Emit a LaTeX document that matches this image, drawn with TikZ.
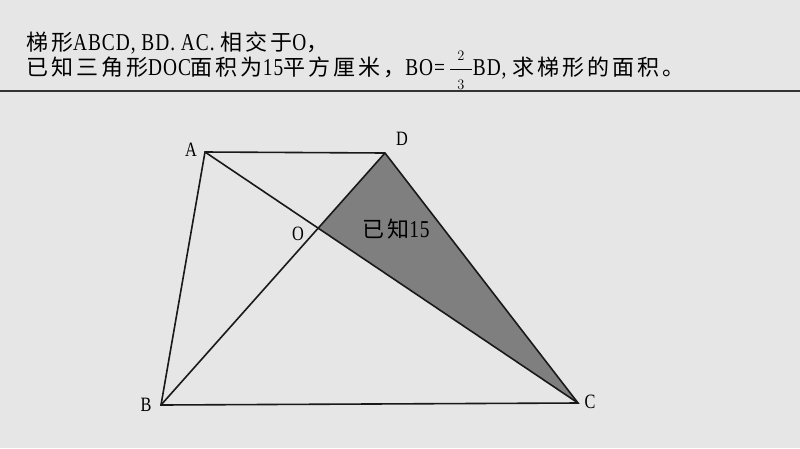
\documentclass[tikz,border=0pt]{standalone}
\usepackage{amsmath}
\usepackage{fontspec}
\setmainfont[FakeStretch=0.8, Scale=1.1, LetterSpace=4]{Liberation Serif}
\newfontfamily\cjk[LetterSpace=13.6]{Noto Sans CJK SC}
\definecolor{bgcol}{HTML}{E6E6E6}
\definecolor{shadecol}{HTML}{7F7F7F}
\tikzset{
  edge/.style={line width=1.6pt, draw=black!90},
  vlabel/.style={font=\fontsize{18.5}{22}\selectfont, inner sep=0pt},
  question/.style={font=\fontsize{22}{26}\selectfont, anchor=base west, inner sep=0pt},
}

\begin{document}
\begin{tikzpicture}[x=1pt,y=-1pt]
    \fill[bgcol] (0,0) rectangle (800,448);
    \useasboundingbox (0,0) rectangle (800,448);

    % question
    \node[question] (line1) at (26,50) {{\cjk 梯形}ABCD, BD. AC. {\cjk 相交于}O{\cjk ，}};
    \node[question] (line2) at (26,75) {{\cjk 已知三角形}DOC{\cjk 面积为}15{\cjk 平方厘米，}BO=\,$\dfrac{\scriptstyle\mkern9mu 2\mkern9mu}{\scriptstyle\mkern9mu 3\mkern9mu}$BD, {\cjk 求梯形的面积。}};
    \coordinate (ruleL) at (0,91);
    \coordinate (ruleR) at (800,91);
    \draw[line width=1.3pt, black!80] (ruleL) -- (ruleR);

    % trapezoid ABCD
    \coordinate (A) at (205,152);
    \coordinate (D) at (385,153);
    \coordinate (B) at (161,405);
    \coordinate (C) at (578,403);
    \coordinate (O) at (intersection of A--C and B--D);

    \fill[shadecol] (D) -- (O) -- (C) -- cycle;
    \draw[edge] (A) -- (D) -- (C) -- (B) -- cycle;
    \draw[edge] (A) -- (C);
    \draw[edge] (B) -- (D);

    \node[vlabel] (labA) at (191,150) {A};
    \node[vlabel] (labD) at (402,139) {D};
    \node[vlabel] (labO) at (298,234) {O};
    \node[vlabel] (labB) at (146,405) {B};
    \node[vlabel] (labC) at (590,402) {C};
    \node[vlabel, font=\fontsize{22}{26}\selectfont] (known) at (396,229) {{\cjk 已知}15};
\end{tikzpicture}
\end{document}
